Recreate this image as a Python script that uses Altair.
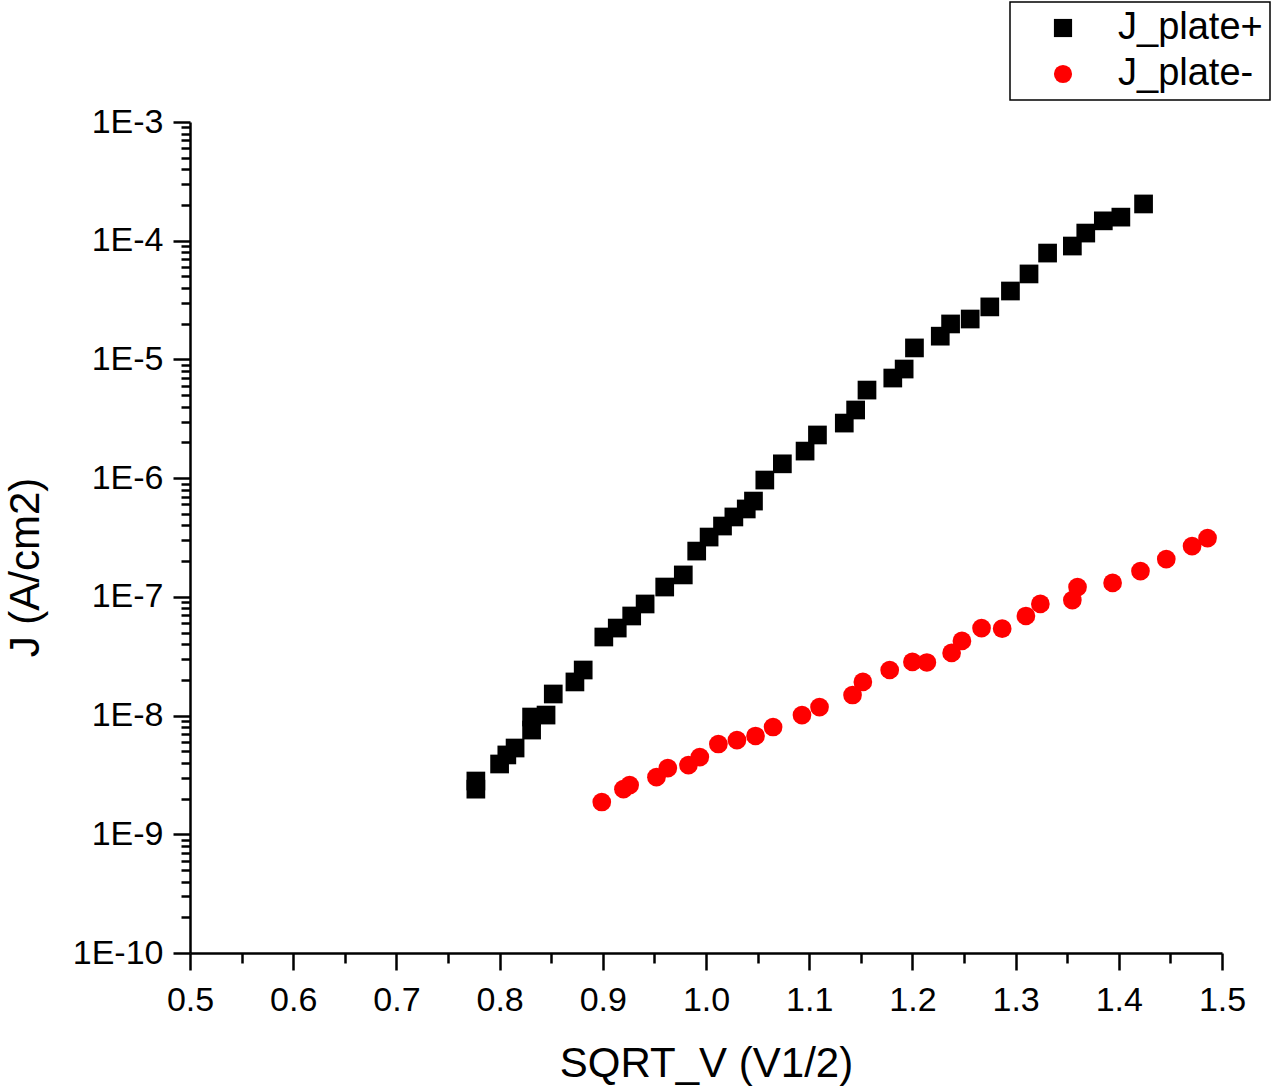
import altair as alt
import pandas as pd

# ---- data ----
plus_x = [0.777, 0.777, 0.800, 0.807, 0.815, 0.831, 0.831, 0.845, 0.852, 0.873, 0.881,
          0.901, 0.914, 0.928, 0.941, 0.960, 0.978, 0.991, 1.003, 1.016, 1.027, 1.039,
          1.046, 1.057, 1.074, 1.096, 1.108, 1.134, 1.145, 1.156, 1.181, 1.192, 1.202,
          1.227, 1.237, 1.256, 1.275, 1.295, 1.313, 1.331, 1.355, 1.368, 1.385, 1.402, 1.424]
plus_j = [2.81e-9, 2.40e-9, 3.91e-9, 4.66e-9, 5.33e-9, 7.55e-9, 9.72e-9, 1.01e-8, 1.52e-8,
          1.92e-8, 2.42e-8, 4.59e-8, 5.46e-8, 6.90e-8, 8.71e-8, 1.21e-7, 1.53e-7, 2.43e-7,
          3.19e-7, 3.95e-7, 4.71e-7, 5.50e-7, 6.41e-7, 9.64e-7, 1.32e-6, 1.69e-6, 2.31e-6,
          2.91e-6, 3.75e-6, 5.52e-6, 6.97e-6, 8.30e-6, 1.25e-5, 1.57e-5, 1.99e-5, 2.19e-5,
          2.77e-5, 3.77e-5, 5.25e-5, 7.87e-5, 9.02e-5, 1.16e-4, 1.47e-4, 1.58e-4, 2.04e-4]

minus_x = [0.899, 0.920, 0.926, 0.952, 0.963, 0.983, 0.994, 1.012, 1.030, 1.048, 1.065,
           1.093, 1.110, 1.142, 1.152, 1.178, 1.200, 1.214, 1.238, 1.248, 1.267, 1.287,
           1.310, 1.324, 1.355, 1.360, 1.394, 1.421, 1.446, 1.471, 1.486]
minus_j = [1.87e-9, 2.40e-9, 2.60e-9, 3.03e-9, 3.61e-9, 3.83e-9, 4.47e-9, 5.76e-9, 6.22e-9,
           6.73e-9, 8.01e-9, 1.01e-8, 1.18e-8, 1.49e-8, 1.92e-8, 2.42e-8, 2.83e-8, 2.80e-8,
           3.37e-8, 4.25e-8, 5.46e-8, 5.40e-8, 6.90e-8, 8.71e-8, 9.40e-8, 1.21e-7, 1.31e-7,
           1.65e-7, 2.08e-7, 2.68e-7, 3.13e-7]

series_names = ["J_plate+", "J_plate-"]
series_colors = ["#000000", "#ff0000"]
series_shapes = ["square", "circle"]

x_ticks = [round(0.5 + 0.05 * i, 2) for i in range(21)]
y_ticks = []
for d in range(-10, -3):
    for k in range(1, 10):
        y_ticks.append(float(f"{k}e{d}"))
y_ticks.append(1e-3)

df = pd.DataFrame(
    {"x": plus_x + minus_x,
     "j": plus_j + minus_j,
     "series": [series_names[0]] * len(plus_x) + [series_names[1]] * len(minus_x)}
)

FONT = "Liberation Sans"

y_major_test = "abs(log(datum.value)/LN10 - round(log(datum.value)/LN10)) < 1e-6"
x_major_test = "abs(datum.value*10 - round(datum.value*10)) < 1e-6"

chart = alt.Chart(df).mark_point(filled=True, opacity=1, size=350, strokeWidth=0).encode(
    x=alt.X("x:Q",
            scale=alt.Scale(domain=[0.5, 1.5], nice=False, zero=False),
            axis=alt.Axis(
                title="SQRT_V (V1/2)",
                values=x_ticks,
                labelExpr=f"{x_major_test} ? format(datum.value, '.1f') : ''",
                tickSize={"condition": {"test": x_major_test, "value": 17}, "value": 10},
                labelPadding=13,
                labelFontSize=34,
                labelFont=FONT,
                labelColor="#000000",
                titleFont=FONT,
                titleFontSize=42,
                titleFontWeight="normal",
                titleColor="#000000",
                titleBaseline="middle",
                titleY=110,
                domainColor="#000000",
                domainWidth=2.5,
                tickColor="#000000",
                tickWidth=2.5,
                grid=False,
                labelFlush=False,
                labelOverlap=False,
            )),
    y=alt.Y("j:Q",
            scale=alt.Scale(type="log", domain=[1e-10, 1e-3], nice=False),
            axis=alt.Axis(
                title="J (A/cm2)",
                values=y_ticks,
                labelExpr=f"{y_major_test} ? '1E' + round(log(datum.value)/LN10) : ''",
                tickSize={"condition": {"test": y_major_test, "value": 17}, "value": 9},
                labelPadding=10,
                labelFontSize=34,
                labelFont=FONT,
                labelColor="#000000",
                titleFont=FONT,
                titleFontSize=42,
                titleFontWeight="normal",
                titleColor="#000000",
                titleBaseline="middle",
                titleAlign="center",
                titleX=-165,
                titleY=445,
                domainColor="#000000",
                domainWidth=2.5,
                tickColor="#000000",
                tickWidth=2.5,
                grid=False,
                labelFlush=False,
                labelOverlap=False,
            )),
    color=alt.Color("series:N",
                    scale=alt.Scale(domain=series_names, range=series_colors),
                    legend=alt.Legend(
                        title=None,
                        orient="none",
                        legendX=820,
                        legendY=-120,
                        strokeColor="#000000",
                        padding=7,
                        symbolOffset=27,
                        labelOffset=36,
                        rowPadding=8,
                        labelFont=FONT,
                        labelFontSize=38,
                        labelColor="#000000",
                        symbolSize=330,
                        symbolStrokeWidth=0,
                        symbolOpacity=1,
                    )),
    shape=alt.Shape("series:N",
                    scale=alt.Scale(domain=series_names, range=series_shapes),
                    legend=alt.Legend(title=None)),
).properties(
    width=1032,
    height=831,
    background="#ffffff",
    autosize=alt.AutoSizeParams(type="none"),
    padding={"left": 190, "top": 122, "right": 58, "bottom": 135},
).configure_view(
    stroke=None
).configure_legend(
    strokeWidth=1.5,
    cornerRadius=0,
)

chart.save("out.html", embed_options={"renderer": "svg", "actions": False})
